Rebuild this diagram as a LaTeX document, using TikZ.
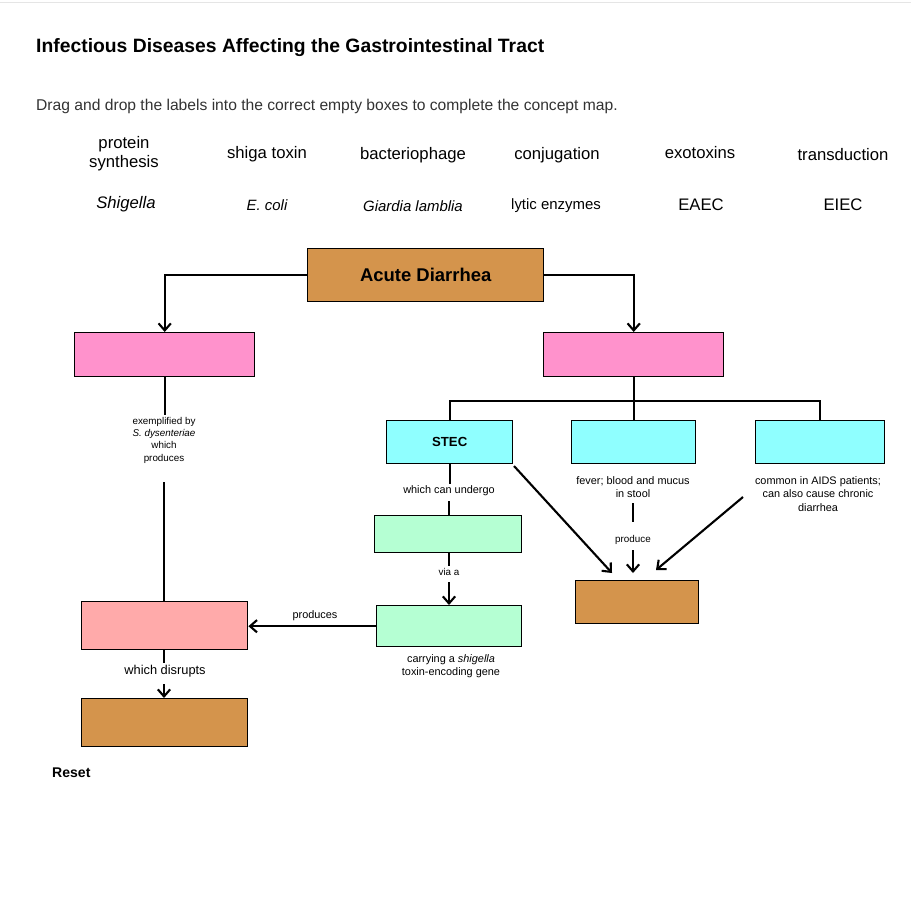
\documentclass[tikz,border=0pt]{standalone}
\usepackage{fontspec}
\setmainfont{Liberation Sans}
\usetikzlibrary{positioning,arrows.meta}
\definecolor{brownbox}{HTML}{D4944C}
\definecolor{pinkbox}{HTML}{FF92CC}
\definecolor{cyanbox}{HTML}{8FFFFF}
\definecolor{greenbox}{HTML}{B5FFD3}
\definecolor{salmonbox}{HTML}{FFAAAA}
\tikzset{
 box/.style={draw=black,line width=0.8pt,inner sep=0pt,anchor=north west},
 word/.style={font=\fontsize{9.5}{11}\selectfont,align=center},
 small/.style={font=\fontsize{5.6}{7}\selectfont,align=center,inner sep=1pt},
 link/.style={line width=1.2pt},
 arr/.style={line width=1.2pt,-{Straight Barb[length=4pt,width=7pt,line width=1.2pt]}}
}
\begin{document}
\begin{tikzpicture}[x=0.02cm,y=-0.02cm]
 \useasboundingbox (0,0) rectangle (911,900);
 \draw[gray!20] (0,2) -- (911,2);
 % title and instructions
 \node[anchor=west,font=\bfseries\fontsize{11}{13}\selectfont] (title) at (30,48) {Infectious Diseases Affecting the Gastrointestinal Tract};
 \node[anchor=west,font=\fontsize{8.9}{10}\selectfont,text=black!80] (instr) at (30,106) {Drag and drop the labels into the correct empty boxes to complete the concept map.};
 % word bank
 \node[word] (w1) at (124,154) {protein\\synthesis};
 \node[word] (w2) at (267,154) {shiga toxin};
 \node[word] (w3) at (413,155) {bacteriophage};
 \node[word] (w4) at (557,155) {conjugation};
 \node[word] (w5) at (700,153) {exotoxins};
 \node[word] (w6) at (843,155) {transduction};
 \node[word,font=\itshape\fontsize{9.5}{11}\selectfont] (w7) at (126,204) {Shigella};
 \node[word,font=\itshape\fontsize{8.5}{10}\selectfont] (w8) at (267,205) {E. coli};
 \node[word,font=\itshape\fontsize{8.5}{10}\selectfont] (w9) at (413,206) {Giardia lamblia};
 \node[word,font=\fontsize{8.5}{10}\selectfont] (w10) at (556,206) {lytic enzymes};
 \node[word] (w11) at (701,205) {EAEC};
 \node[word] (w12) at (843,205) {EIEC};
 % boxes
 \node[box,fill=brownbox,minimum width=236*0.02cm,minimum height=53*0.02cm,font=\bfseries\fontsize{10.5}{12}\selectfont] (acute) at (307,248) {Acute Diarrhea};
 \node[box,fill=pinkbox,minimum width=180*0.02cm,minimum height=44*0.02cm] (pinkL) at (74,332) {};
 \node[box,fill=pinkbox,minimum width=180*0.02cm,minimum height=44*0.02cm] (pinkR) at (543,332) {};
 \node[box,fill=cyanbox,minimum width=126*0.02cm,minimum height=43*0.02cm,font=\bfseries\fontsize{7.5}{9}\selectfont] (stec) at (386,420) {STEC};
 \node[box,fill=cyanbox,minimum width=124*0.02cm,minimum height=43*0.02cm] (cyanM) at (571,420) {};
 \node[box,fill=cyanbox,minimum width=129*0.02cm,minimum height=43*0.02cm] (cyanR) at (755,420) {};
 \node[box,fill=greenbox,minimum width=147*0.02cm,minimum height=37*0.02cm] (greenA) at (374,515) {};
 \node[box,fill=greenbox,minimum width=145*0.02cm,minimum height=41*0.02cm] (greenB) at (376,605) {};
 \node[box,fill=salmonbox,minimum width=166*0.02cm,minimum height=48*0.02cm] (toxin) at (81,601) {};
 \node[box,fill=brownbox,minimum width=166*0.02cm,minimum height=48*0.02cm] (target) at (81,698) {};
 \node[box,fill=brownbox,minimum width=123*0.02cm,minimum height=43*0.02cm] (symptom) at (575,580) {};
 % link labels
 \node[small] (lblEx) at (164,440) {exemplified by\\\textit{S. dysenteriae}\\which\\produces};
 \node[small,font=\fontsize{6.2}{7.5}\selectfont] (lblUnd) at (449,491) {which can undergo};
 \node[small] (lblVia) at (449,572) {via a};
 \node[small,font=\fontsize{6.2}{7.5}\selectfont] (lblProd) at (315,616) {produces};
 \node[small,font=\fontsize{6.2}{7.5}\selectfont] (lblCarry) at (451,666) {carrying a \textit{shigella}\\toxin-encoding gene};
 \node[small,font=\fontsize{7.3}{9}\selectfont] (lblDis) at (165,671) {which disrupts};
 \node[small,font=\fontsize{6.2}{7.5}\selectfont] (lblFever) at (633,487) {fever; blood and mucus\\in stool};
 \node[small] (lblProduce) at (633,540) {produce};
 \node[small,font=\fontsize{6.2}{7.5}\selectfont] (lblAids) at (818,494) {common in AIDS patients;\\can also cause chronic\\diarrhea};
 \node[anchor=west,font=\bfseries\fontsize{8}{10}\selectfont] (reset) at (46,773) {Reset};
 % connector ends
 \coordinate (fork) at (633,401);
 \coordinate (exEnd) at (164,482);
 \coordinate (undEnd) at (449,501);
 \coordinate (viaEnd) at (449,582);
 \coordinate (disEnd) at (164,684);
 \coordinate (feverEnd) at (633,503);
 \coordinate (produceEnd) at (633,550);
 \coordinate (stecEnd) at (514,466);
 \coordinate (aidsEnd) at (743,497);
 % connectors
 \draw[arr] (acute.west) -| (pinkL.north);
 \draw[arr] (acute.east) -| (pinkR.north);
 \draw[link] (pinkR.south) -- (pinkR.south |- fork);
 \draw[link] (stec.north) |- (fork) -| (cyanR.north);
 \draw[link] (cyanM.north |- fork) -- (cyanM.north);
 \draw[link] (pinkL.south) -- (pinkL.south |- lblEx.north);
 \draw[link] (exEnd) -- (exEnd |- toxin.north);
 \draw[link] (stec.south) -- (stec.south |- lblUnd.north);
 \draw[link] (undEnd) -- (undEnd |- greenA.north);
 \draw[link] (viaEnd |- greenA.south) -- (viaEnd |- lblVia.north);
 \draw[arr] (viaEnd) -- (viaEnd |- greenB.north);
 \draw[arr] (greenB.west) -- (greenB.west -| toxin.east);
 \draw[link] (disEnd |- toxin.south) -- (disEnd |- lblDis.north);
 \draw[arr] (disEnd) -- (disEnd |- target.north);
 \draw[arr] (stecEnd) -- (612,573);
 \draw[link] (feverEnd) -- ++(0,19);
 \draw[arr] (produceEnd) -- ++(0,23);
 \draw[arr] (aidsEnd) -- (656,570);
\end{tikzpicture}
\end{document}
